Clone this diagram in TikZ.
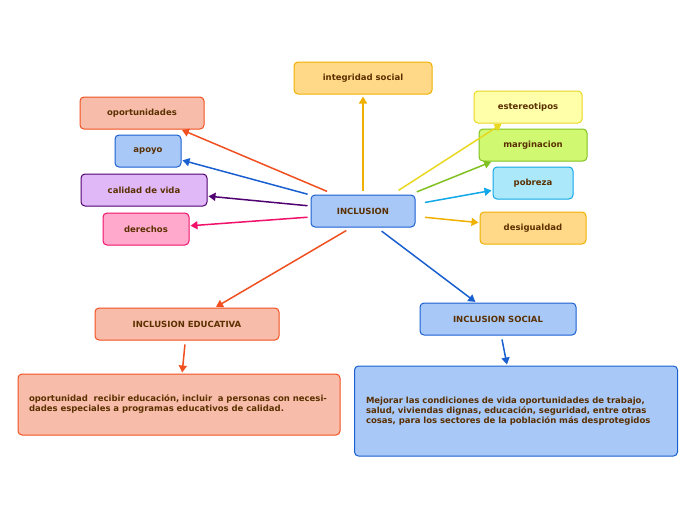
\documentclass[tikz,border=0pt]{standalone}
\usepackage{fontspec}
\setmainfont{DejaVu Sans}
\usetikzlibrary{arrows.meta}
\definecolor{txt}{HTML}{5A3000}
\definecolor{bfill}{HTML}{A8C8F8}\definecolor{bline}{HTML}{1A5FD0}
\definecolor{ofill}{HTML}{FFD987}\definecolor{oline}{HTML}{F0B000}
\definecolor{rfill}{HTML}{F8BDAA}\definecolor{rline}{HTML}{F05020}
\definecolor{pfill}{HTML}{E0B8F8}\definecolor{pline}{HTML}{500070}
\definecolor{kfill}{HTML}{FFAACC}\definecolor{kline}{HTML}{F0106A}
\definecolor{yfill}{HTML}{FFFFAA}\definecolor{yline}{HTML}{E8D820}
\definecolor{gfill}{HTML}{D0F870}\definecolor{gline}{HTML}{80C020}
\definecolor{cfill}{HTML}{AAE8FA}\definecolor{cline}{HTML}{10A8E8}
\tikzset{
 box/.style={draw,rounded corners=4pt,line width=1pt,minimum height=32pt,font=\fontsize{8.5}{10}\selectfont\bfseries,text=txt,inner sep=3pt},
 con/.style={line width=1.5pt,-{Triangle[length=7pt,width=8pt]},shorten <=3pt,shorten >=1pt},
}
\begin{document}
\begin{tikzpicture}[x=1pt,y=-1pt]
\useasboundingbox (0,0) rectangle (696,520);
\node[box,fill=bfill,draw=bline,minimum width=104pt] (inc) at (363,211) {INCLUSION};
\node[box,fill=ofill,draw=oline,minimum width=138pt] (int) at (363,78) {integridad social};
\node[box,fill=rfill,draw=rline,minimum width=124pt] (opo) at (142,113) {oportunidades};
\node[box,fill=bfill,draw=bline,minimum width=66pt] (apo) at (148,151) {apoyo};
\node[box,fill=pfill,draw=pline,minimum width=126pt] (cal) at (144,190) {calidad de vida};
\node[box,fill=kfill,draw=kline,minimum width=86pt] (der) at (146,229) {derechos};
\node[box,fill=yfill,draw=yline,minimum width=108pt] (est) at (528,107) {estereotipos};
\node[box,fill=gfill,draw=gline,minimum width=108pt] (mar) at (533,145) {marginacion};
\node[box,fill=cfill,draw=cline,minimum width=80pt] (pob) at (533,183) {pobreza};
\node[box,fill=ofill,draw=oline,minimum width=106pt] (des) at (533,228) {desigualdad};
\node[box,fill=rfill,draw=rline,minimum width=184pt] (edu) at (187,324) {INCLUSION EDUCATIVA};
\node[box,fill=bfill,draw=bline,minimum width=156pt] (soc) at (498,319) {INCLUSION SOCIAL};
\node[box,fill=rfill,draw=rline,minimum width=322pt,minimum height=61pt,align=left,text width=300pt,inner sep=6pt] (tl) at (179,404.5) {oportunidad\ \ recibir educación, incluir\ \ a personas con necesidades especiales a programas educativos de calidad.};
\node[box,fill=bfill,draw=bline,minimum width=323pt,minimum height=90pt,align=left,text width=300pt,inner sep=6pt] (tr) at (516,411) {Mejorar las condiciones de vida oportunidades de trabajo, salud, viviendas dignas, educación, seguridad, entre otras cosas, para los sectores de la población más desprotegidos};
\begin{scope}[on background layer/.style={}]
\draw[con,oline,shorten <=4pt,shorten >=2pt] (inc) -- (int);
\draw[con,rline,shorten <=8pt] (inc.150) -- (opo);
\draw[con,bline] (inc.west|-0,195) -- (apo);
\draw[con,pline] (inc.west|-0,206) -- (cal);
\draw[con,kline] (inc.west|-0,217) -- (der);
\draw[con,yline] (396,192) -- (est);
\draw[con,gline] (414,193) -- (mar);
\draw[con,cline] (422,203) -- (pob);
\draw[con,oline] (422,217) -- (des);
\draw[con,rline,shorten <=6pt] (inc.235) -- (edu);
\draw[con,bline,shorten <=6pt] (inc.310) -- (soc);
\draw[con,rline,shorten <=4pt] (edu) -- (tl);
\draw[con,bline,shorten <=4pt] (soc) -- (tr);
\end{scope}
\end{tikzpicture}
\end{document}
